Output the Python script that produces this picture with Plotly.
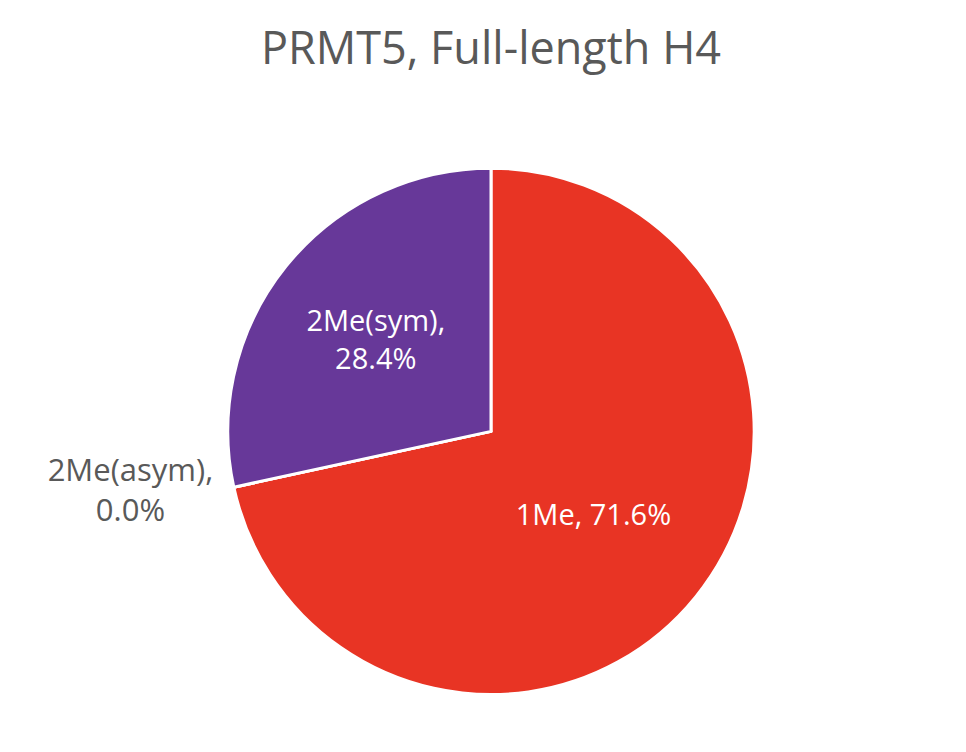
import plotly.graph_objects as go

labels = ["1Me", "2Me(asym)", "2Me(sym)"]
values = [71.6, 0.0, 28.4]
colors = ["#E83424", "#673899", "#673899"]
templates = ["%{label}, %{percent:.1%}", "%{label},<br>%{percent:.1%}", "%{label},<br>%{percent:.1%}"]
positions = ["inside", "outside", "inside"]

fig = go.Figure(go.Pie(
    labels=labels,
    values=values,
    sort=False,
    direction="clockwise",
    rotation=0,
    marker=dict(colors=colors, line=dict(color="white", width=3)),
    texttemplate=templates,
    textposition=positions,
    insidetextorientation="horizontal",
    insidetextfont=dict(color="white", size=29),
    outsidetextfont=dict(color="#595959", size=31),
    automargin=False,
    showlegend=False,
    hoverinfo="label+percent",
    domain=dict(x=[0.19, 0.81], y=[0.087, 0.787]),
))

fig.update_layout(
    width=966, height=752,
    font=dict(family="Open Sans", size=29, color="#595959"),
    title=dict(text="PRMT5, Full-length H4", x=0.5, xanchor="center", y=0.947, yanchor="middle",
               font=dict(size=45, color="#595959")),
    margin=dict(l=0, r=0, t=0, b=0, autoexpand=False),
    paper_bgcolor="white",
)

fig.write_html("out.html")
